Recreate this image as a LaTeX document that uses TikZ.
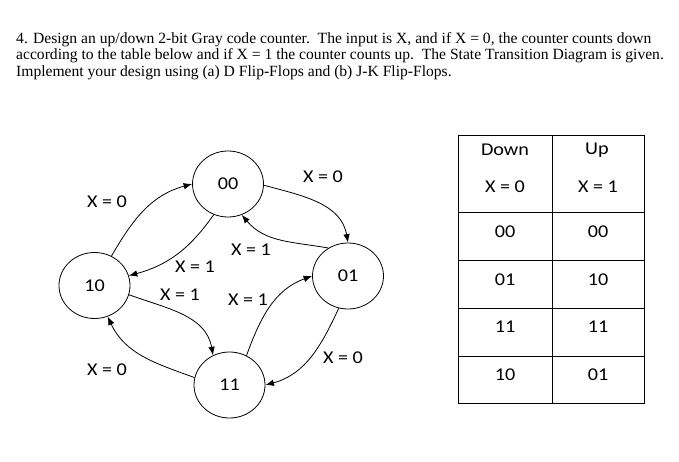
\documentclass[tikz,border=0pt]{standalone}
\usepackage{fontspec}
\setmainfont{Liberation Serif}
\newfontfamily\calfont{Carlito}
\usetikzlibrary{arrows.meta,shapes.geometric}
\newcommand\sx[1]{\scalebox{1.12}[1]{#1}}
\begin{document}
\begin{tikzpicture}[x=1pt,y=1pt,
  state/.style={draw,ellipse,minimum width=71pt,minimum height=66pt,inner sep=0pt,line width=0.8pt,font=\calfont\fontsize{18}{20}\selectfont},
  lbl/.style={inner sep=0pt,font=\calfont\fontsize{18}{20}\selectfont},
  para/.style={anchor=base west,inner sep=0pt,font=\fontsize{15.6}{16.5}\selectfont},
  trans/.style={line width=0.8pt,-{Latex[length=8.5pt,width=6.5pt]}},
  grid/.style={line width=0.9pt}]
\useasboundingbox (0,0) rectangle (679,-462);
% paragraph
\node[para] (t1) at (16,-43.5) {4. Design an up/down 2-bit Gray code counter.\ \ The input is X, and if X = 0, the counter counts down};
\node[para] (t2) at (16,-60) {according to the table below and if X = 1 the counter counts up.\ \ The State Transition Diagram is given.};
\node[para] (t3) at (16,-76.5) {Implement your design using (a) D Flip-Flops and (b) J-K Flip-Flops.};
% states
\node[state] (s00) at (228,-184) {\sx{00}};
\node[state] (s10) at (94.5,-285.5) {\sx{10}};
\node[state] (s01) at (348,-276) {\sx{01}};
\node[state] (s11) at (229.5,-385) {\sx{11}};
% transitions
\draw[trans] (s10.60) to[out=60,in=195] (s00.180);
\draw[trans] (s00.245) to[out=235,in=15] (s10.16);
\draw[trans] (s00.-2) to[out=-15,in=100] (s01.90);
\draw[trans] (s01.125) to[out=170,in=-50] (s00.294);
\draw[trans] (s10.-15) to[out=-20,in=100] (s11.119);
\draw[trans] (s11.60) to[out=70,in=200] (s01.180);
\draw[trans] (s01.254) to[out=245,in=15] (s11.0);
\draw[trans] (s11.168) to[out=160,in=-65] (s10.293);
% labels
\node[lbl] (l1) at (107,-202) {\sx{X = 0}};
\node[lbl] (l2) at (323,-177) {\sx{X = 0}};
\node[lbl] (l3) at (195,-267) {\sx{X = 1}};
\node[lbl] (l4) at (251,-250) {\sx{X = 1}};
\node[lbl] (l5) at (180,-295) {\sx{X = 1}};
\node[lbl] (l6) at (248,-300) {\sx{X = 1}};
\node[lbl] (l7) at (107,-370) {\sx{X = 0}};
\node[lbl] (l8) at (343,-358) {\sx{X = 0}};
% table
\draw[grid] (458,-135) rectangle (644,-403);
\draw[grid] (552,-135) -- (552,-403);
\foreach \yy in {212,260,308,356} \draw[grid] (458,-\yy) -- (644,-\yy);
\node[lbl] (h1) at (505,-150) {\sx{Down}};
\node[lbl] (h2) at (597,-150) {\sx{Up}};
\node[lbl] (h3) at (505,-187) {\sx{X = 0}};
\node[lbl] (h4) at (598,-187) {\sx{X = 1}};
\node[lbl] (a1) at (505,-232) {\sx{00}};
\node[lbl] (b1) at (598,-232) {\sx{00}};
\node[lbl] (a2) at (505,-280) {\sx{01}};
\node[lbl] (b2) at (598,-280) {\sx{10}};
\node[lbl] (a3) at (505,-327) {\sx{11}};
\node[lbl] (b3) at (598,-327) {\sx{11}};
\node[lbl] (a4) at (505,-375) {\sx{10}};
\node[lbl] (b4) at (598,-375) {\sx{01}};
\end{tikzpicture}
\end{document}
